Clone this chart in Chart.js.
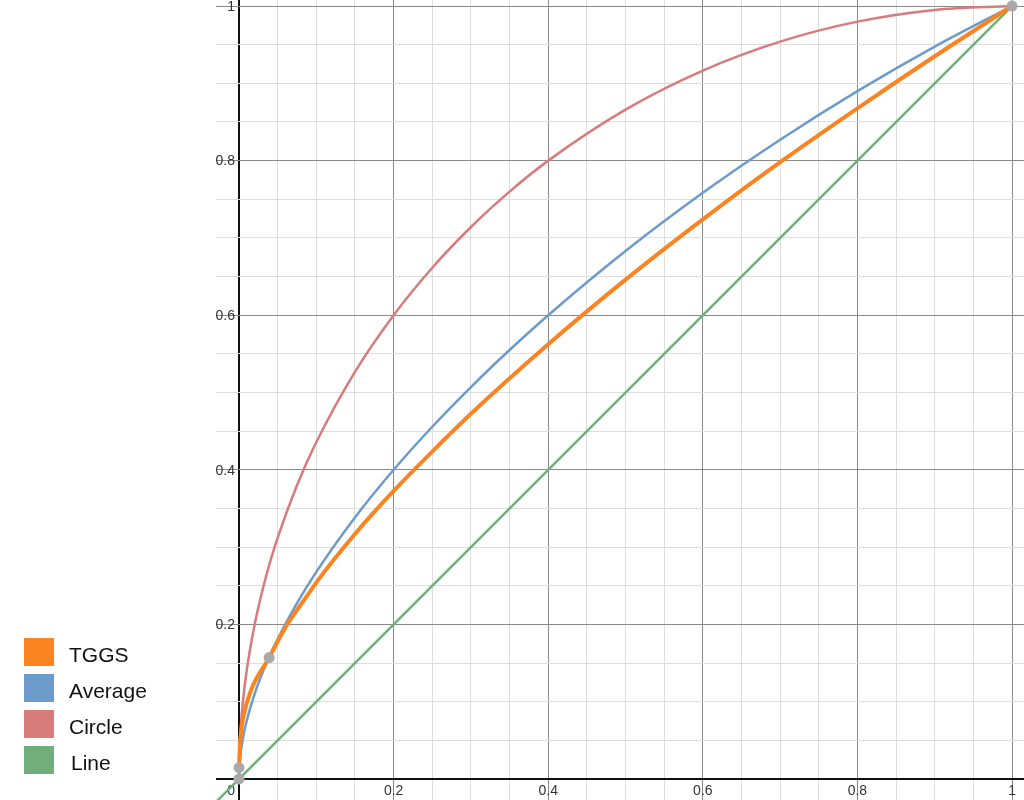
<!DOCTYPE html>
<html>
<head>
<meta charset="utf-8">
<script src="https://cdn.jsdelivr.net/npm/chart.js@4/dist/chart.umd.min.js"></script>
<style>
  html, body { margin: 0; padding: 0; background: #fff; }
  #wrap { position: relative; width: 1024px; height: 800px; overflow: hidden; }
  #chart { position: absolute; left: 0; top: 0; }
  #legend { position: absolute; left: 24px; top: 638px; font-family: "Liberation Sans", Arial, sans-serif; font-size: 21px; color: #111; }
  .item { position: relative; height: 36px; }
  .swatch { position: absolute; left: 0; top: 0; width: 30px; height: 28px; }
  .label { position: absolute; left: 45px; top: 6px; line-height: 22px; }
</style>
</head>
<body>
<div id="wrap">
  <canvas id="chart" width="1024" height="800"></canvas>
  <div id="legend"></div>
</div>
<script>
// Series names and colours
const seriesNames = ['TGGS', 'Average', 'Circle', 'Line'];
const seriesColors = ['#fb8422', '#6c9bcb', '#d87b7b', '#72ae7b'];

// TGGS curve
const tggsX = [0, 0.0013, 0.0035, 0.0142, 0.039, 0.06, 0.0918, 0.102, 0.15, 0.2, 0.25, 0.3, 0.4, 0.5, 0.6, 0.7, 0.8, 0.9, 1];
const tggsY = [0.0146, 0.046, 0.068, 0.111, 0.157, 0.196, 0.2423, 0.257, 0.317, 0.3726, 0.4236, 0.4725, 0.5624, 0.646, 0.724, 0.798, 0.8677, 0.935, 1];

// Average and Circle curves share these x positions
const curveX = [0, 0.0005, 0.002, 0.005, 0.01, 0.02, 0.035, 0.05, 0.075, 0.1, 0.15, 0.2, 0.25, 0.3, 0.35, 0.4, 0.5, 0.6, 0.7, 0.8, 0.9, 1];
const averageY = [0, 0.0161, 0.0326, 0.0525, 0.0756, 0.1095, 0.1487, 0.1811, 0.2275, 0.268, 0.3384, 0.4, 0.4557, 0.5071, 0.555, 0.6, 0.683, 0.7583, 0.827, 0.8899, 0.9475, 1];
const circleY = [0, 0.0316, 0.0632, 0.0999, 0.1411, 0.199, 0.2623, 0.3122, 0.38, 0.4359, 0.5268, 0.6, 0.6614, 0.7141, 0.7599, 0.8, 0.866, 0.9165, 0.9539, 0.9798, 0.995, 1];

// Straight line
const lineX = [-0.04, 1];
const lineY = [-0.04, 1];

// Marked points
const dotX = [0, 0, 0.039, 1];
const dotY = [0, 0.0146, 0.157, 1];

// Axis labels
const xTickLabels = ['0', '0.2', '0.4', '0.6', '0.8', '1'];
const xTickValues = [0, 0.2, 0.4, 0.6, 0.8, 1];
const yTickLabels = ['0.2', '0.4', '0.6', '0.8', '1'];
const yTickValues = [0.2, 0.4, 0.6, 0.8, 1];

const xMin = -0.0298, xMax = 1.0155;
const yMin = -0.0272, yMax = 1.0078;
const gridStep = 0.05;

function toPoints(xs, ys) {
  return xs.map((x, i) => ({ x: x, y: ys[i] }));
}

// Build legend
const legendEl = document.getElementById('legend');
seriesNames.forEach((name, i) => {
  const item = document.createElement('div');
  item.className = 'item';
  item.innerHTML = `<div class="swatch" style="background:${seriesColors[i]}"></div><div class="label"${name === 'Line' ? ' style="left:47px"' : ''}>${name}</div>`;
  legendEl.appendChild(item);
});

function gridTicks(scale) {
  const ticks = [];
  const start = Math.ceil(scale.min / gridStep);
  const end = Math.floor(scale.max / gridStep);
  for (let k = start; k <= end; k++) ticks.push({ value: +(k * gridStep).toFixed(4) });
  scale.ticks = ticks;
}

function gridColor(ctx) {
  const k = Math.round(ctx.tick.value / gridStep);
  if (k === 0) return '#111';
  if (k % 4 === 0) return '#8a8a8a';
  return '#dedede';
}

function gridWidth(ctx) {
  const k = Math.round(ctx.tick.value / gridStep);
  return k === 0 ? 2 : 1;
}

// Tick labels drawn inside the plot, next to the axes
const axisLabels = {
  id: 'axisLabels',
  beforeDatasetsDraw(chart) {
    const ctx = chart.ctx;
    const xs = chart.scales.x, ys = chart.scales.y;
    const x0 = xs.getPixelForValue(0), y0 = ys.getPixelForValue(0);
    ctx.save();
    ctx.font = '14px "Liberation Sans", Arial, sans-serif';
    ctx.fillStyle = '#333';
    ctx.textBaseline = 'middle';
    ctx.textAlign = 'right';
    yTickValues.forEach((v, i) => {
      ctx.fillText(yTickLabels[i], x0 - 4, ys.getPixelForValue(v) + 1);
    });
    ctx.textAlign = 'center';
    xTickValues.forEach((v, i) => {
      const px = v === 0 ? x0 - 8 : xs.getPixelForValue(v);
      ctx.fillText(xTickLabels[i], px, y0 + 12);
    });
    ctx.restore();
  }
};

new Chart(document.getElementById('chart'), {
  type: 'scatter',
  data: {
    datasets: [
      {
        label: 'points',
        data: toPoints(dotX, dotY),
        showLine: false,
        pointRadius: 5.5,
        pointBackgroundColor: '#aaaaaa',
        pointBorderWidth: 0,
        order: 0
      },
      {
        label: seriesNames[0],
        data: toPoints(tggsX, tggsY),
        showLine: true,
        borderColor: seriesColors[0],
        borderWidth: 4,
        pointRadius: 0,
        cubicInterpolationMode: 'monotone',
        order: 1
      },
      {
        label: seriesNames[1],
        data: toPoints(curveX, averageY),
        showLine: true,
        borderColor: seriesColors[1],
        borderWidth: 2.5,
        pointRadius: 0,
        cubicInterpolationMode: 'monotone',
        order: 2
      },
      {
        label: seriesNames[2],
        data: toPoints(curveX, circleY),
        showLine: true,
        borderColor: seriesColors[2],
        borderWidth: 2.5,
        pointRadius: 0,
        cubicInterpolationMode: 'monotone',
        order: 3
      },
      {
        label: seriesNames[3],
        data: toPoints(lineX, lineY),
        showLine: true,
        borderColor: seriesColors[3],
        borderWidth: 2.5,
        pointRadius: 0,
        order: 4
      }
    ]
  },
  options: {
    responsive: false,
    animation: false,
    layout: { autoPadding: false, padding: { left: 216, right: 0, top: 0, bottom: 0 } },
    plugins: {
      legend: { display: false },
      tooltip: { enabled: false }
    },
    scales: {
      x: {
        type: 'linear',
        min: xMin,
        max: xMax,
        afterBuildTicks: gridTicks,
        ticks: { display: false },
        border: { display: false },
        grid: { color: gridColor, lineWidth: gridWidth, drawTicks: false }
      },
      y: {
        type: 'linear',
        min: yMin,
        max: yMax,
        afterBuildTicks: gridTicks,
        ticks: { display: false },
        border: { display: false },
        grid: { color: gridColor, lineWidth: gridWidth, drawTicks: false }
      }
    }
  },
  plugins: [axisLabels]
});
</script>
</body>
</html>
